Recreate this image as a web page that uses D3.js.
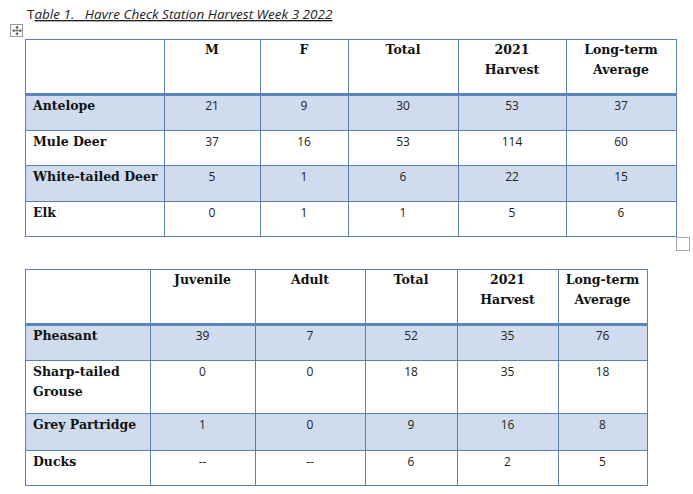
<!DOCTYPE html>
<html><head><meta charset="utf-8">
<script src="https://cdn.jsdelivr.net/npm/d3@7"></script>
<style>body{margin:0;background:#fff}</style></head>
<body><svg id="c" width="693" height="494"></svg>
<script>
const titleLead = "T";
const title = "able 1.   Havre Check Station Harvest Week 3 2022";
const bigHeaders = [[""],["M"],["F"],["Total"],["2021","Harvest"],["Long-term","Average"]];
const bigRows = [["Antelope"],["Mule Deer"],["White-tailed Deer"],["Elk"]];
const bigValues = [["21","9","30","53","37"],["37","16","53","114","60"],["5","1","6","22","15"],["0","1","1","5","6"]];
const birdHeaders = [[""],["Juvenile"],["Adult"],["Total"],["2021","Harvest"],["Long-term","Average"]];
const birdRows = [["Pheasant"],["Sharp-tailed","Grouse"],["Grey Partridge"],["Ducks"]];
const birdValues = [["39","7","52","35","76"],["0","0","18","35","18"],["1","0","9","16","8"],["--","--","6","2","5"]];

const svg = d3.select("#c");
const border = "#5b7fb0", fill = "#d0dcee";
const tt = svg.append("text").attr("x",27).attr("y",19).attr("font-family","'Open Sans',sans-serif")
  .attr("font-size",13.5).attr("fill","#222").style("white-space","pre");
tt.append("tspan").text(titleLead);
tt.append("tspan").attr("font-style","italic").attr("text-decoration","underline").text(title);
svg.append("rect").attr("x",10.5).attr("y",24.5).attr("width",12).attr("height",12).attr("fill","#fff").attr("stroke","#999");
svg.append("text").attr("x",16.5).attr("y",34.5).attr("text-anchor","middle").attr("font-size",12).attr("fill","#666").text("✣");
svg.append("rect").attr("x",676.5).attr("y",237.5).attr("width",13).attr("height",13).attr("fill","#fff").attr("stroke","#aaa");

function table(cols, rowsY, headers, rowLabels, values){
  const g = svg.append("g");
  const x = d3.scaleOrdinal().domain(d3.range(cols.length)).range(cols);
  const y = d3.scaleOrdinal().domain(d3.range(rowsY.length)).range(rowsY);
  rowLabels.forEach((r,i)=>{ if(i%2===0) g.append("rect").attr("x",x(0)).attr("y",y(i+1))
     .attr("width",x(6)-x(0)).attr("height",y(i+2)-y(i+1)).attr("fill",fill); });
  cols.forEach(c=>g.append("line").attr("x1",c+.5).attr("x2",c+.5).attr("y1",y(0)).attr("y2",y(rowsY.length-1)).attr("stroke",border));
  rowsY.forEach((r,i)=>g.append("line").attr("x1",x(0)).attr("x2",x(6)+1).attr("y1",r+.5).attr("y2",r+.5)
     .attr("stroke",i===1?"#5a84bb":border).attr("stroke-width",i===1?3:1));
  const serif = "'DejaVu Serif',serif", sans = "'Open Sans',sans-serif";
  headers.forEach((h,j)=>h.forEach((t,k)=>g.append("text").attr("x",(x(j)+x(j+1))/2).attr("y",y(0)+15+k*20)
     .attr("text-anchor","middle").attr("font-family",serif).attr("font-weight","bold").attr("font-size",12.5).attr("fill","#111").text(t)));
  rowLabels.forEach((r,i)=>r.forEach((t,k)=>g.append("text").attr("x",x(0)+8).attr("y",y(i+1)+16+k*20)
     .attr("font-family",serif).attr("font-weight","bold").attr("font-size",12.5).attr("fill","#111").text(t)));
  values.forEach((row,i)=>row.forEach((v,j)=>g.append("text").attr("x",(x(j+1)+x(j+2))/2).attr("y",y(i+1)+16)
     .attr("text-anchor","middle").attr("font-family",sans).attr("font-size",12).attr("fill","#222").text(v)));
}
table([25,164,260,348,458,566,676],[39,94,130,165,201,236],bigHeaders,bigRows,bigValues);
table([25,150,255,365,457,558,647],[269,324,360,413,450,485],birdHeaders,birdRows,birdValues);
</script></body></html>
